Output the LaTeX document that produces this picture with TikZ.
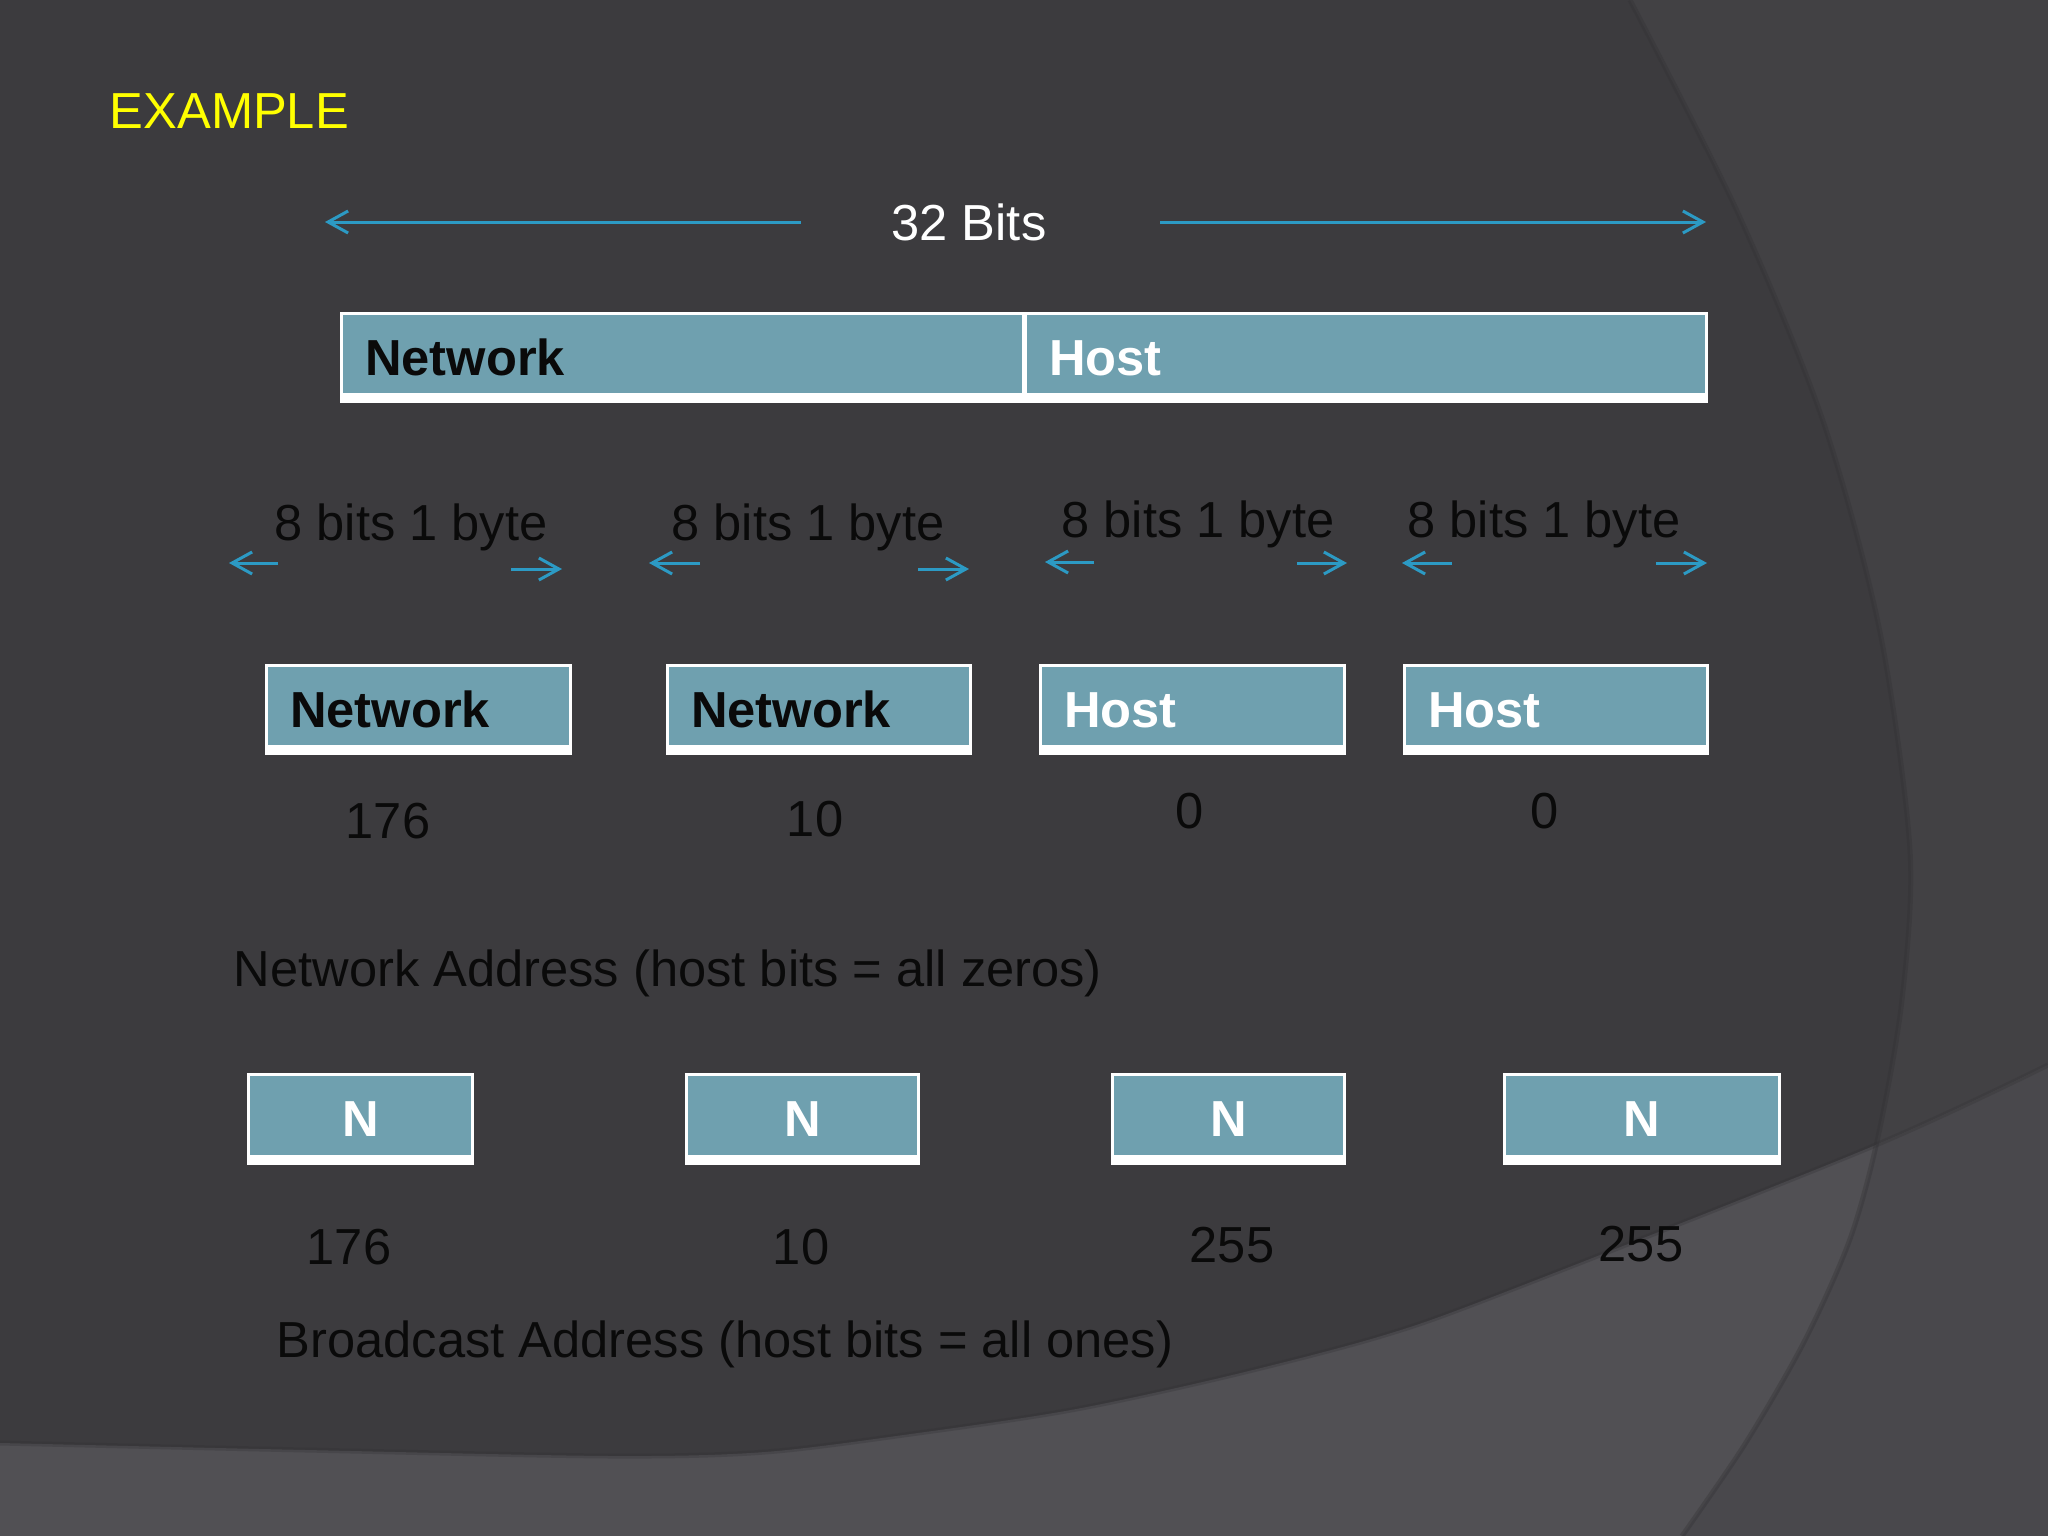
\documentclass[tikz,border=0pt]{standalone}
\usepackage{fontspec}
\usepackage{color}
\usepackage{tikz}
\usetikzlibrary{arrows.meta}
\setmainfont{Liberation Sans}

\definecolor{slide}{RGB}{60,59,62}
\definecolor{slideright}{RGB}{66,65,68}
\definecolor{slideband}{RGB}{81,80,84}
\definecolor{slidebandright}{RGB}{73,72,76}
\definecolor{edge}{RGB}{50,49,52}
\definecolor{fieldteal}{RGB}{111,160,175}
\definecolor{tipblue}{RGB}{44,154,196}
\definecolor{ink}{RGB}{10,10,10}
\definecolor{title}{RGB}{255,255,0}

\tikzset{
	txt/.style={font=\fontsize{14.4}{17}\selectfont, text=ink, inner sep=0pt},
	fieldbox/.style={rectangle, fill=fieldteal, draw=white, line width=0.025cm, anchor=north west,
		minimum height=0.88cm, inner xsep=0.24cm, inner ysep=0pt, text height=0.36cm, text depth=0pt,
		font=\fontsize{14.4}{17}\selectfont\bfseries, align=left,
		path picture={\fill[white] (path picture bounding box.south west) rectangle ([yshift=0.08cm]path picture bounding box.south east);}},
	span/.style={draw=tipblue, line width=0.03cm, -{Straight Barb[length=0.2cm,width=0.22cm]}}
}

\begin{document}
\begin{tikzpicture}[x=0.01cm, y=-0.01cm]
	\useasboundingbox (0,0) rectangle (2048,1536);
	\fill[slide] (0,0) rectangle (2048,1536);
	\fill[slideright] plot[smooth] coordinates {(1630,0) (1737,211) (1823,421) (1880,632) (1910,850) (1902,1000) (1878,1137) (1850,1239) (1804,1342) (1745,1444) (1682,1536)} -- (2048,1536) -- (2048,0) -- cycle;
	\fill[slideband] plot[smooth] coordinates {(0,1443) (306,1450) (612,1456) (765,1452) (918,1433) (1071,1410) (1224,1377) (1378,1337) (1500,1294) (1871,1147) (2048,1065)} -- (2048,1536) -- (0,1536) -- cycle;
	\begin{scope}
		\clip plot[smooth] coordinates {(1630,0) (1737,211) (1823,421) (1880,632) (1910,850) (1902,1000) (1878,1137) (1850,1239) (1804,1342) (1745,1444) (1682,1536)} -- (2048,1536) -- (2048,0) -- cycle;
		\fill[slidebandright] plot[smooth] coordinates {(0,1443) (306,1450) (612,1456) (765,1452) (918,1433) (1071,1410) (1224,1377) (1378,1337) (1500,1294) (1871,1147) (2048,1065)} -- (2048,1536) -- (0,1536) -- cycle;
	\end{scope}
	\draw[edge, line width=0.05cm, opacity=0.35] plot[smooth] coordinates {(1630,0) (1737,211) (1823,421) (1880,632) (1910,850) (1902,1000) (1878,1137) (1850,1239) (1804,1342) (1745,1444) (1682,1536)};
	\draw[edge, line width=0.05cm, opacity=0.3] plot[smooth] coordinates {(0,1443) (306,1450) (612,1456) (765,1452) (918,1433) (1071,1410) (1224,1377) (1378,1337) (1500,1294) (1871,1147) (2048,1065)};

	\node (example) at (109,128) [txt, anchor=base west, text=title] {EXAMPLE};
	\node (bits) at (969,240) [txt, anchor=base, text=white] {32 Bits};
		\coordinate (bitsl) at (801,222);
		\coordinate (bitsle) at (325,222);
		\coordinate (bitsr) at (1160,222);
		\coordinate (bitsre) at (1706,222);
	\draw[span] (bitsl) -- (bitsle);
	\draw[span] (bitsr) -- (bitsre);

	\node (netbar) at (340,312) [fieldbox, text width=6.34cm, text=ink] {Network};
	\node (hostbar) at (1024,312) [fieldbox, text width=6.33cm, text=white] {Host};

	\node (oct1) at (411,540) [txt, anchor=base] {8 bits 1 byte};
	\node (oct2) at (808,540) [txt, anchor=base] {8 bits 1 byte};
	\node (oct3) at (1198,537) [txt, anchor=base] {8 bits 1 byte};
	\node (oct4) at (1544,537) [txt, anchor=base] {8 bits 1 byte};
		\coordinate (l1) at (278,563);	\coordinate (l1e) at (229,563);
		\coordinate (r1) at (511,569);	\coordinate (r1e) at (562,569);
		\coordinate (l2) at (700,563);	\coordinate (l2e) at (649,563);
		\coordinate (r2) at (918,569);	\coordinate (r2e) at (969,569);
		\coordinate (l3) at (1094,562);	\coordinate (l3e) at (1045,562);
		\coordinate (r3) at (1297,563);	\coordinate (r3e) at (1347,563);
		\coordinate (l4) at (1452,563);	\coordinate (l4e) at (1402,563);
		\coordinate (r4) at (1656,563);	\coordinate (r4e) at (1707,563);
	\draw[span] (l1) -- (l1e);
	\draw[span] (r1) -- (r1e);
	\draw[span] (l2) -- (l2e);
	\draw[span] (r2) -- (r2e);
	\draw[span] (l3) -- (l3e);
	\draw[span] (r3) -- (r3e);
	\draw[span] (l4) -- (l4e);
	\draw[span] (r4) -- (r4e);

	\node (net1) at (265,664) [fieldbox, text width=2.56cm, text=ink] {Network};
	\node (net2) at (666,664) [fieldbox, text width=2.55cm, text=ink] {Network};
	\node (host1) at (1039,664) [fieldbox, text width=2.56cm, text=white] {Host};
	\node (host2) at (1403,664) [fieldbox, text width=2.55cm, text=white] {Host};
		\node (v1) at (388,838) [txt, anchor=base] {176};
		\node (v2) at (815,836) [txt, anchor=base] {10};
		\node (v3) at (1190,828) [txt, anchor=base] {0};
		\node (v4) at (1545,828) [txt, anchor=base] {0};
	\node (netaddr) at (233,986) [txt, anchor=base west] {Network Address (host bits = all zeros)};

	\node (n1) at (247,1073) [fieldbox, minimum width=2.24cm, minimum height=0.89cm, text=white] {N};
	\node (n2) at (685,1073) [fieldbox, minimum width=2.32cm, minimum height=0.89cm, text=white] {N};
	\node (n3) at (1111,1073) [fieldbox, minimum width=2.32cm, minimum height=0.89cm, text=white] {N};
	\node (n4) at (1503,1073) [fieldbox, minimum width=2.75cm, minimum height=0.89cm, text=white] {N};
		\node (w1) at (349,1264) [txt, anchor=base] {176};
		\node (w2) at (801,1264) [txt, anchor=base] {10};
		\node (w3) at (1232,1262) [txt, anchor=base] {255};
		\node (w4) at (1641,1261) [txt, anchor=base] {255};
	\node (bcast) at (276,1357) [txt, anchor=base west] {Broadcast Address (host bits = all ones)};
\end{tikzpicture}
\end{document}
